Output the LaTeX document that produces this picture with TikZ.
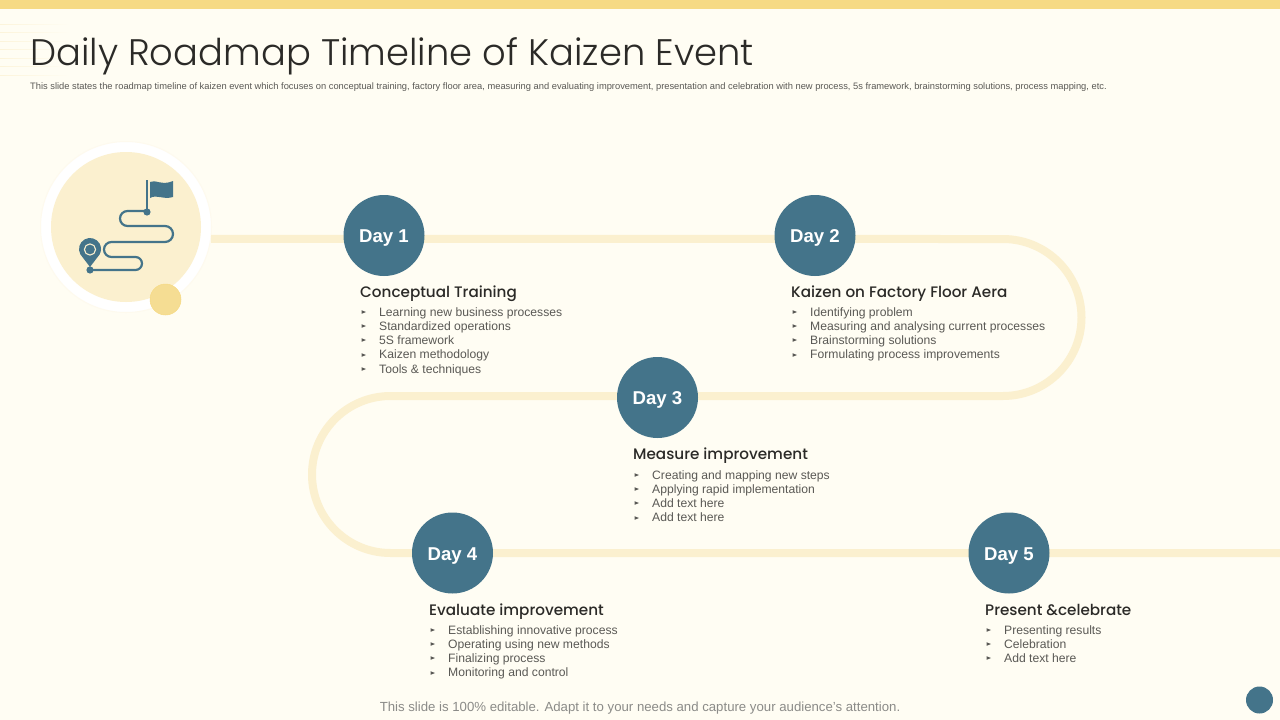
\documentclass[tikz,border=0pt]{standalone}
\usepackage{fontspec}
\setmainfont{Liberation Sans}
\newfontfamily\headfont{Poppins Medium}
\newfontfamily\titlefont{Poppins Light}
\usetikzlibrary{calc}
\definecolor{bgc}{HTML}{FFFDF3}
\definecolor{barc}{HTML}{F6DA84}
\definecolor{roadc}{HTML}{FBF0CF}
\definecolor{tealc}{HTML}{44748A}
\definecolor{inkc}{HTML}{2B2A27}
\definecolor{bodyc}{HTML}{5A5955}
\definecolor{goldc}{HTML}{F5DD93}
\tikzset{
 x=1pt,y=-1pt,
 road/.style={draw=roadc,line width=8pt,line cap=butt},
 dayc/.style={circle,fill=tealc,minimum size=81pt,inner sep=0pt,text=white,text height=15pt,text depth=0.3pt,font=\bfseries\fontsize{18.6}{22}\selectfont},
 headt/.style={anchor=base west,inner sep=0pt,text=inkc,font=\headfont\fontsize{15.2}{18}\selectfont},
 bullett/.style={anchor=north west,inner sep=0pt,text=bodyc,align=left,font=\fontsize{12.15}{14.3}\selectfont},
 iconl/.style={draw=tealc,line width=2.2pt,line cap=round,line join=round},
}
\newcommand{\bl}[3]{%
 \foreach \yy in {#2}{\fill[bodyc] (#1,\yy-1.8) -- (#1+4.5,\yy) -- (#1,\yy+1.8) -- cycle;}%
}
\begin{document}
\begin{tikzpicture}
\useasboundingbox (0,0) rectangle (1280,720);
\fill[bgc] (0,0) rectangle (1280,720);
\fill[barc] (0,0) rectangle (1280,9);
\foreach \yy in {24,32,41,49,58,66,75}{\shade[left color=barc!30,right color=bgc] (0,\yy) rectangle (70,\yy+0.7);}
\node[anchor=west,inner sep=0pt,text=inkc,font=\titlefont\fontsize{36.9}{40}\selectfont] (title) at (30,56) {Daily Roadmap Timeline of Kaizen Event};
\node[anchor=west,inner sep=0pt,text=bodyc,font=\fontsize{9.33}{11}\selectfont] (sub) at (30,87.5) {This slide states the roadmap timeline of kaizen event which focuses on conceptual training, factory floor area, measuring and evaluating improvement, presentation and celebration with new process, 5s framework, brainstorming solutions, process mapping, etc.};
% badge
\node[circle,fill=white,draw=roadc!35,line width=1pt,minimum size=171pt,inner sep=0pt] (ring) at (126,227) {};
\coordinate (roadend) at (1280,553);
\draw[road] (ring.-8) -- (1003,239) arc[start angle=-90,end angle=90,radius=78.5] -- (390.5,396) arc[start angle=270,end angle=90,radius=78.5] -- (roadend);
\node[circle,fill=roadc,minimum size=150pt,inner sep=0pt] (disc) at (126,227) {};
\node[circle,fill=goldc,draw=barc,line width=0.5pt,minimum size=31pt,inner sep=0pt] (goldb) at (165.5,299.5) {};
% icon: winding route
\draw[iconl] (90,270) -- (135.5,270) arc[start angle=90,end angle=-90,radius=6.5] -- (111.5,257) arc[start angle=90,end angle=270,radius=7.5] -- (165,242) arc[start angle=90,end angle=-90,radius=8] -- (127.5,226) arc[start angle=90,end angle=270,radius=7.5] -- (147,211);
\draw[iconl,line width=2.6pt,line cap=butt] (147,211) -- (147,180);
\fill[tealc] (147,212) circle[radius=3.6];
\fill[tealc] (90,270) circle[radius=3.6];
\fill[tealc] (90,267) -- (80.5,254.5) arc[start angle=150,end angle=390,radius=11] -- cycle;
\draw[draw=roadc,line width=1.1pt] (90,249.5) circle[radius=5.6];
\fill[tealc] (150,182) .. controls (155,179) and (162,186) .. (173,181) -- (173,197) .. controls (163,200) and (157,194) .. (150,198) -- cycle;
% days
\node[dayc] (d1) at (384,235.5) {Day 1};
\node[dayc] (d2) at (815,235.5) {Day 2};
\node[dayc] (d3) at (657.5,397.5) {Day 3};
\node[dayc] (d4) at (452.5,553) {Day 4};
\node[dayc] (d5) at (1009,553) {Day 5};
% text
\node[headt] (h1) at (360,297.5) {Conceptual Training};
\bl{361.5}{312,326,340,355,369}{}
\node[bullett] (b1) at (379,307) {Learning new business processes\\Standardized operations\\5S framework\\Kaizen methodology\\Tools \& techniques};
\node[headt] (h2) at (791,297.5) {Kaizen on Factory Floor Aera};
\bl{792.5}{312,326,340,355}{}
\node[bullett] (b2) at (810,307) {Identifying problem\\Measuring and analysing current processes\\Brainstorming solutions\\Formulating process improvements};
\node[headt] (h3) at (633,459.5) {Measure improvement};
\bl{634.5}{475,489,503,518}{}
\node[bullett] (b3) at (652,470) {Creating and mapping new steps\\Applying rapid implementation\\Add text here\\Add text here};
\node[headt] (h4) at (429,615.5) {Evaluate improvement};
\bl{430.5}{630,644,658,673}{}
\node[bullett] (b4) at (448,625) {Establishing innovative process\\Operating using new methods\\Finalizing process\\Monitoring and control};
\node[headt] (h5) at (985,615.5) {Present \&celebrate};
\bl{986.5}{630,644,658}{}
\node[bullett] (b5) at (1004,625) {Presenting results\\Celebration\\Add text here};
\node[anchor=center,inner sep=0pt,text=bodyc!70,font=\fontsize{13.2}{15}\selectfont] (foot) at (640,708) {This slide is 100\% editable. Adapt it to your needs and capture your audience's attention.};
\node[circle,fill=tealc,minimum size=27pt,inner sep=0pt] (nav) at (1259.5,700) {};
\end{tikzpicture}
\end{document}
